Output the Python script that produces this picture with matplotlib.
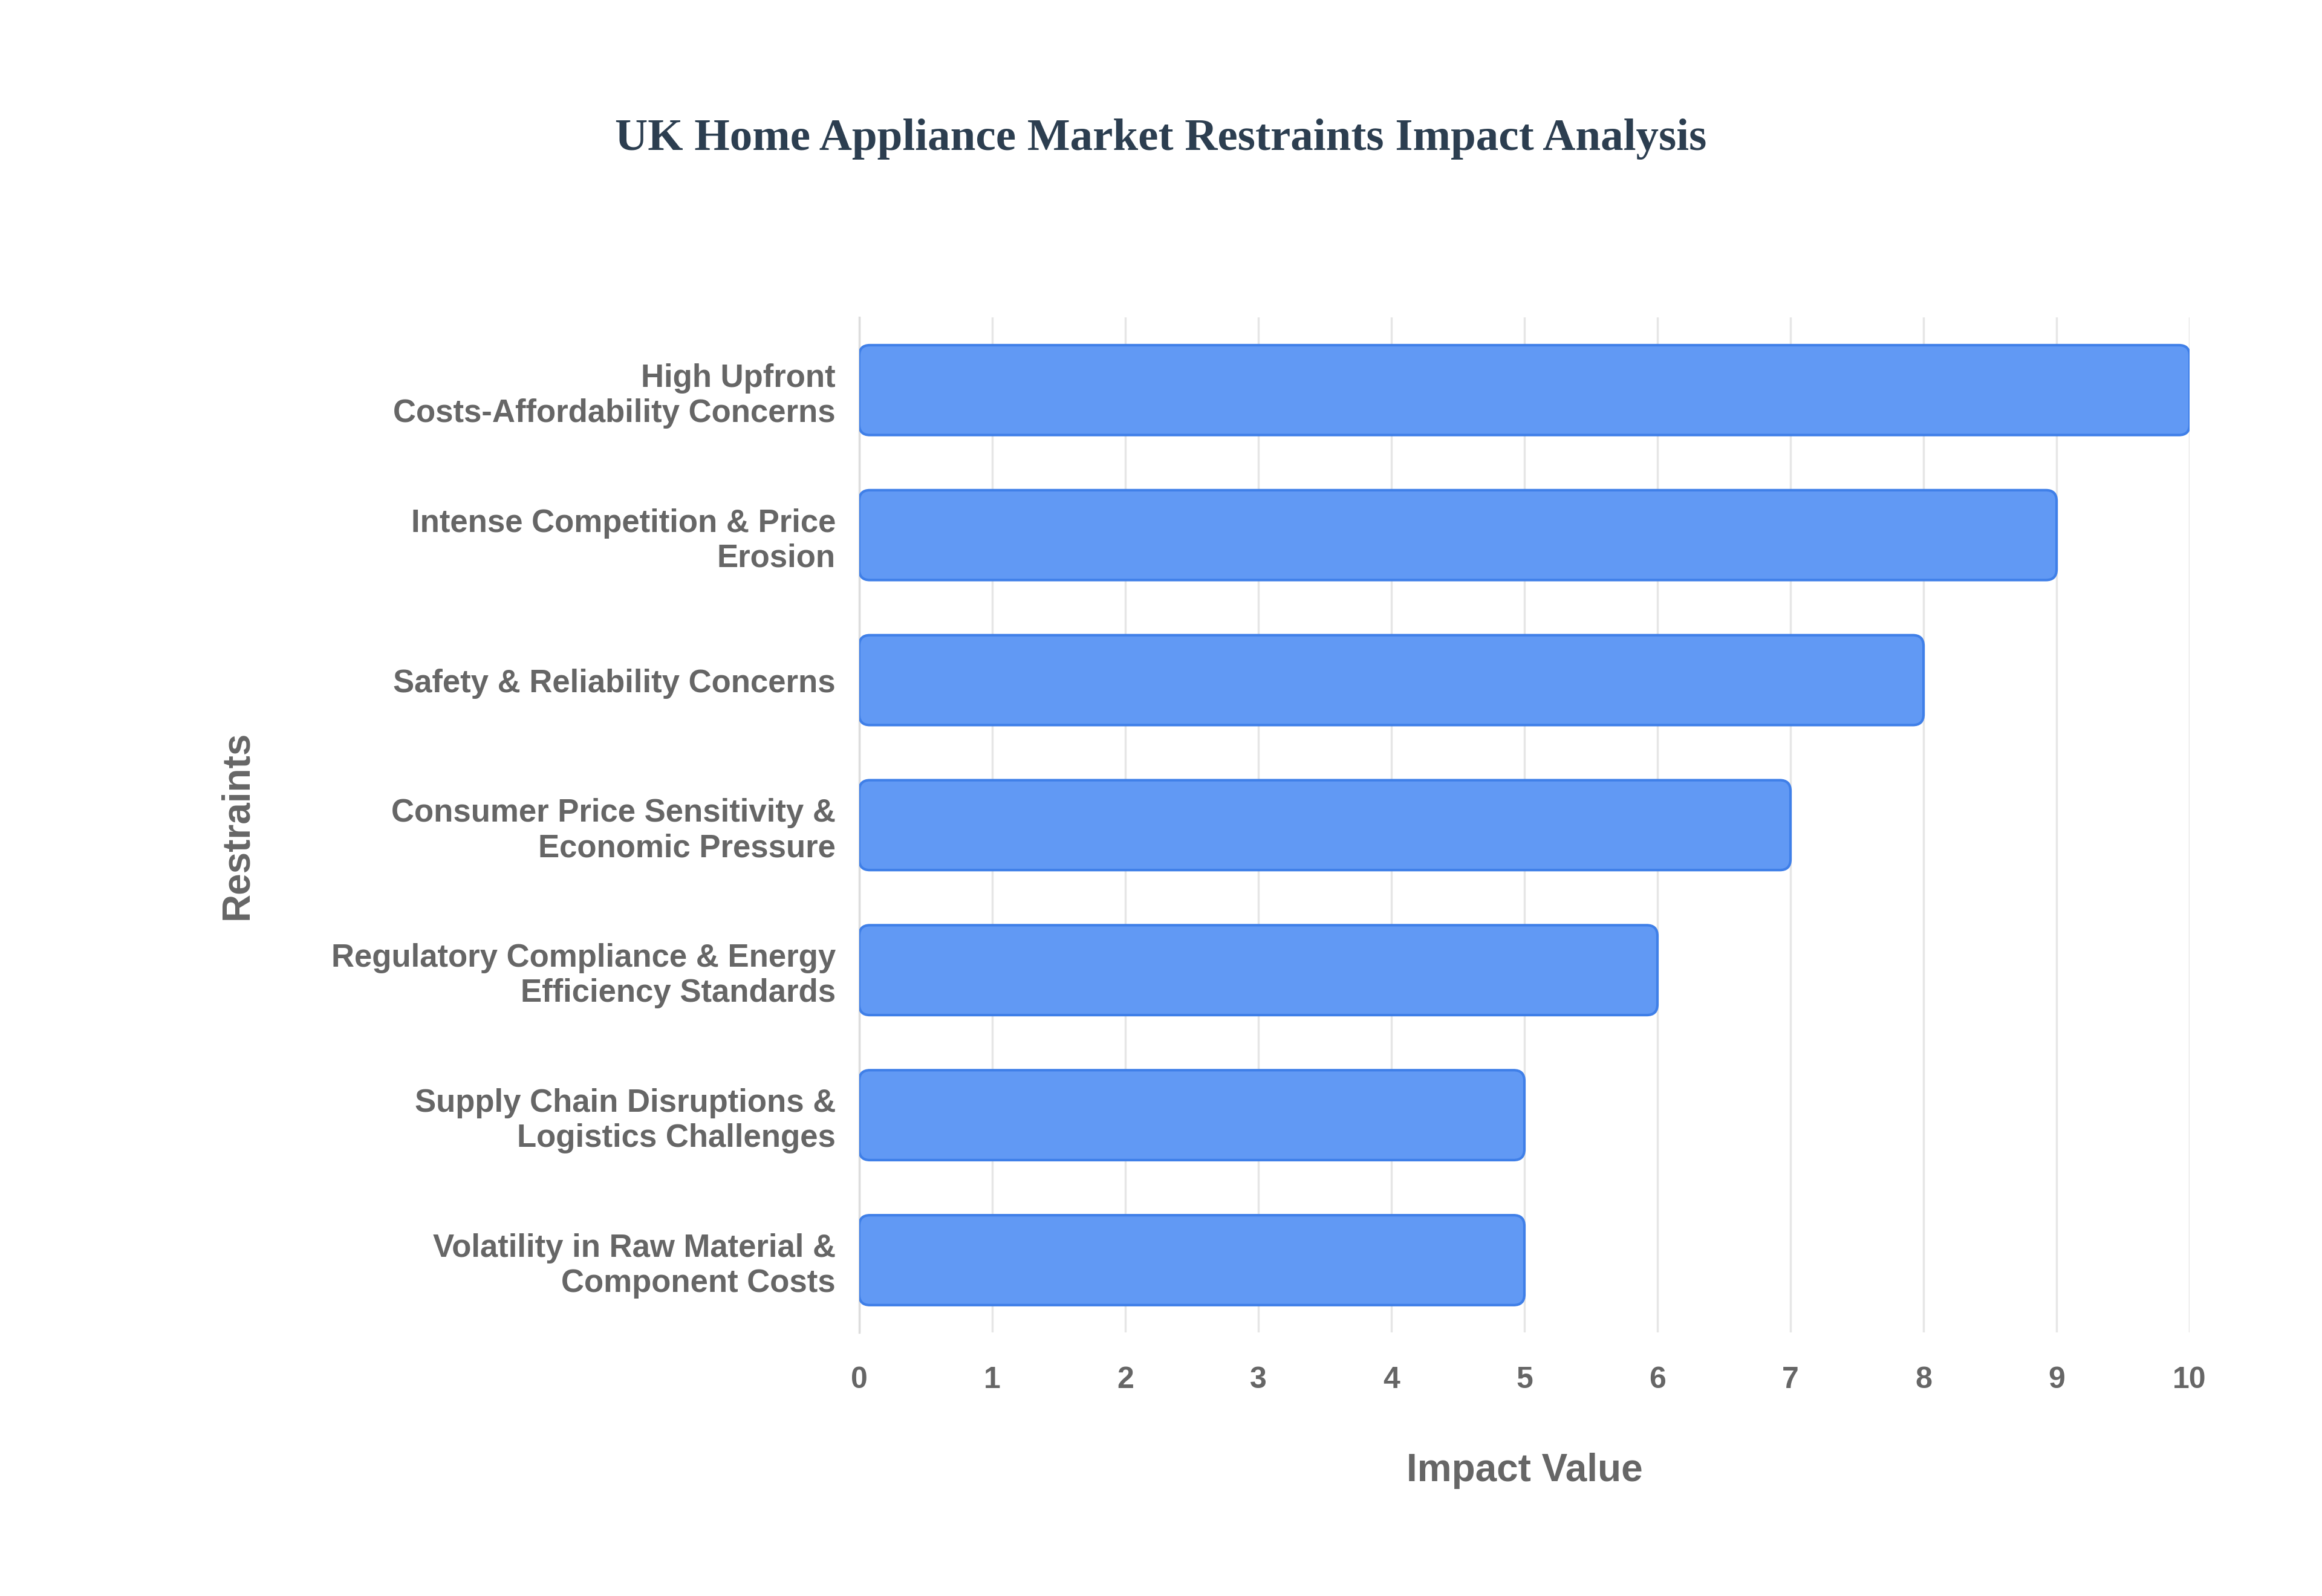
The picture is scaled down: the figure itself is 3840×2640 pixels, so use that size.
import matplotlib
matplotlib.use("Agg")
import matplotlib.pyplot as plt
from matplotlib.patches import FancyBboxPatch

categories = ["High Upfront\nCosts-Affordability Concerns",
              "Intense Competition & Price\nErosion",
              "Safety & Reliability Concerns",
              "Consumer Price Sensitivity &\nEconomic Pressure",
              "Regulatory Compliance & Energy\nEfficiency Standards",
              "Supply Chain Disruptions &\nLogistics Challenges",
              "Volatility in Raw Material &\nComponent Costs"]
values = [10, 9, 8, 7, 6, 5, 5]
xticks = list(range(0, 11))

fig = plt.figure(figsize=(38.4, 26.4), dpi=100)
ax = fig.add_axes([0.370, 0.165, 0.573, 0.636])
ypos = list(range(len(categories)))
bars = ax.barh(ypos, values, height=0.62, color="none")
for b in bars:
    x, y, w, h = b.get_x(), b.get_y(), b.get_width(), b.get_height()
    p = FancyBboxPatch((x, y), w, h, boxstyle="round,pad=0,rounding_size=0.08",
                       mutation_aspect=0.92, facecolor="#6199f4", edgecolor="#3f7fe8",
                       linewidth=3, zorder=3)
    ax.add_patch(p)
    b.remove()
ax.set_ylim(len(categories) - 0.5, -0.5)
ax.set_xlim(0, 10.0)
ax.set_yticks(ypos)
ax.set_yticklabels(categories, fontsize=38, fontweight="bold", color="#666666", family="Liberation Sans")
ax.set_xticks(xticks)
ax.set_xticklabels([str(t) for t in xticks], fontsize=36, fontweight="bold", color="#666666", family="Liberation Sans")
ax.tick_params(axis="both", length=0, pad=28)
ax.tick_params(axis="x", pad=40)
ax.grid(axis="x", color="#e6e6e6", linewidth=2.5, zorder=0)
ax.set_axisbelow(True)
for s in ["top", "right", "bottom"]:
    ax.spines[s].set_visible(False)
ax.spines["left"].set_color("#dddddd")
ax.spines["left"].set_linewidth(2.5)
ax.set_xlabel("Impact Value", fontsize=46, fontweight="bold", color="#666666", family="Liberation Sans", labelpad=70)
ax.set_ylabel("Restraints", fontsize=46, fontweight="bold", color="#666666", family="Liberation Sans", labelpad=90)
fig.text(0.5, 0.913, "UK Home Appliance Market Restraints Impact Analysis", ha="center", va="center",
         fontsize=54, fontweight="bold", color="#2c3e50", family="Liberation Serif")
fig.savefig("out.png", dpi=100, facecolor="white")
